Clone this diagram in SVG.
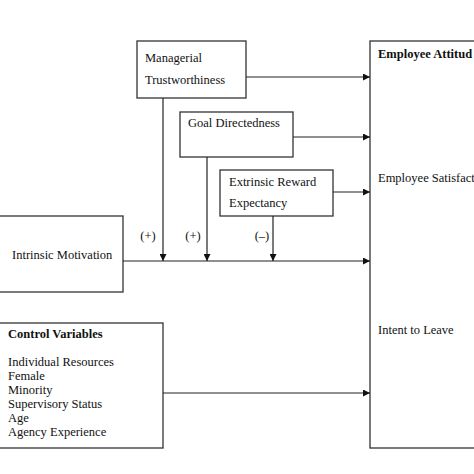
<svg xmlns="http://www.w3.org/2000/svg" width="474" height="474" viewBox="0 0 474 474">
<style>
.box{fill:#fff;stroke:#333;stroke-width:1.3}
.ln{fill:none;stroke:#222;stroke-width:1.2}
text{font-family:"Liberation Serif","Times New Roman",serif;font-size:12.5px;fill:#111}
.b{font-weight:bold}
</style>
<defs>
<marker id="ah" viewBox="0 0 8 8" refX="8" refY="4" markerWidth="7" markerHeight="7" markerUnits="userSpaceOnUse" orient="auto">
<path d="M0,0 L8,4 L0,8 Z" fill="#111"/>
</marker>
</defs>
<rect width="474" height="474" fill="#fff"/>
<g id="employee-attitudes">
<rect class="box" x="370" y="41" width="110" height="407"/>
<text class="b" x="378" y="58">Employee Attitud</text>
<text x="378" y="182">Employee Satisfact</text>
<text x="378" y="334">Intent to Leave</text>
</g>
<g id="managerial-trustworthiness">
<rect class="box" x="137" y="41" width="109" height="57"/>
<text x="145" y="62">Managerial</text>
<text x="145" y="84">Trustworthiness</text>
</g>
<g id="goal-directedness">
<rect class="box" x="180" y="112" width="113" height="45"/>
<text x="188" y="127">Goal Directedness</text>
</g>
<g id="extrinsic-reward">
<rect class="box" x="220" y="170" width="113" height="46"/>
<text x="229" y="186">Extrinsic Reward</text>
<text x="229" y="207">Expectancy</text>
</g>
<g id="intrinsic-motivation">
<rect class="box" x="-2" y="216" width="125" height="76"/>
<text x="12" y="259">Intrinsic Motivation</text>
</g>
<g id="control-variables">
<rect class="box" x="-2" y="323" width="165" height="125"/>
<text class="b" x="8" y="338">Control Variables</text>
<text x="8" y="366">Individual Resources</text>
<text x="8" y="380">Female</text>
<text x="8" y="394">Minority</text>
<text x="8" y="408">Supervisory Status</text>
<text x="8" y="422">Age</text>
<text x="8" y="436">Agency Experience</text>
</g>
<g id="connectors">
<line class="ln" x1="246" y1="77" x2="370" y2="77" marker-end="url(#ah)"/>
<line class="ln" x1="293" y1="137" x2="370" y2="137" marker-end="url(#ah)"/>
<line class="ln" x1="333" y1="192" x2="370" y2="192" marker-end="url(#ah)"/>
<line class="ln" x1="123" y1="261" x2="370" y2="261" marker-end="url(#ah)"/>
<line class="ln" x1="163" y1="393" x2="370" y2="393" marker-end="url(#ah)"/>
<line class="ln" x1="163" y1="98" x2="163" y2="261" marker-end="url(#ah)"/>
<line class="ln" x1="207" y1="157" x2="207" y2="261" marker-end="url(#ah)"/>
<line class="ln" x1="273" y1="216" x2="273" y2="261" marker-end="url(#ah)"/>
<text x="148" y="240" text-anchor="middle">(+)</text>
<text x="193" y="240" text-anchor="middle">(+)</text>
<text x="262" y="240" text-anchor="middle">(–)</text>
</g>
</svg>
